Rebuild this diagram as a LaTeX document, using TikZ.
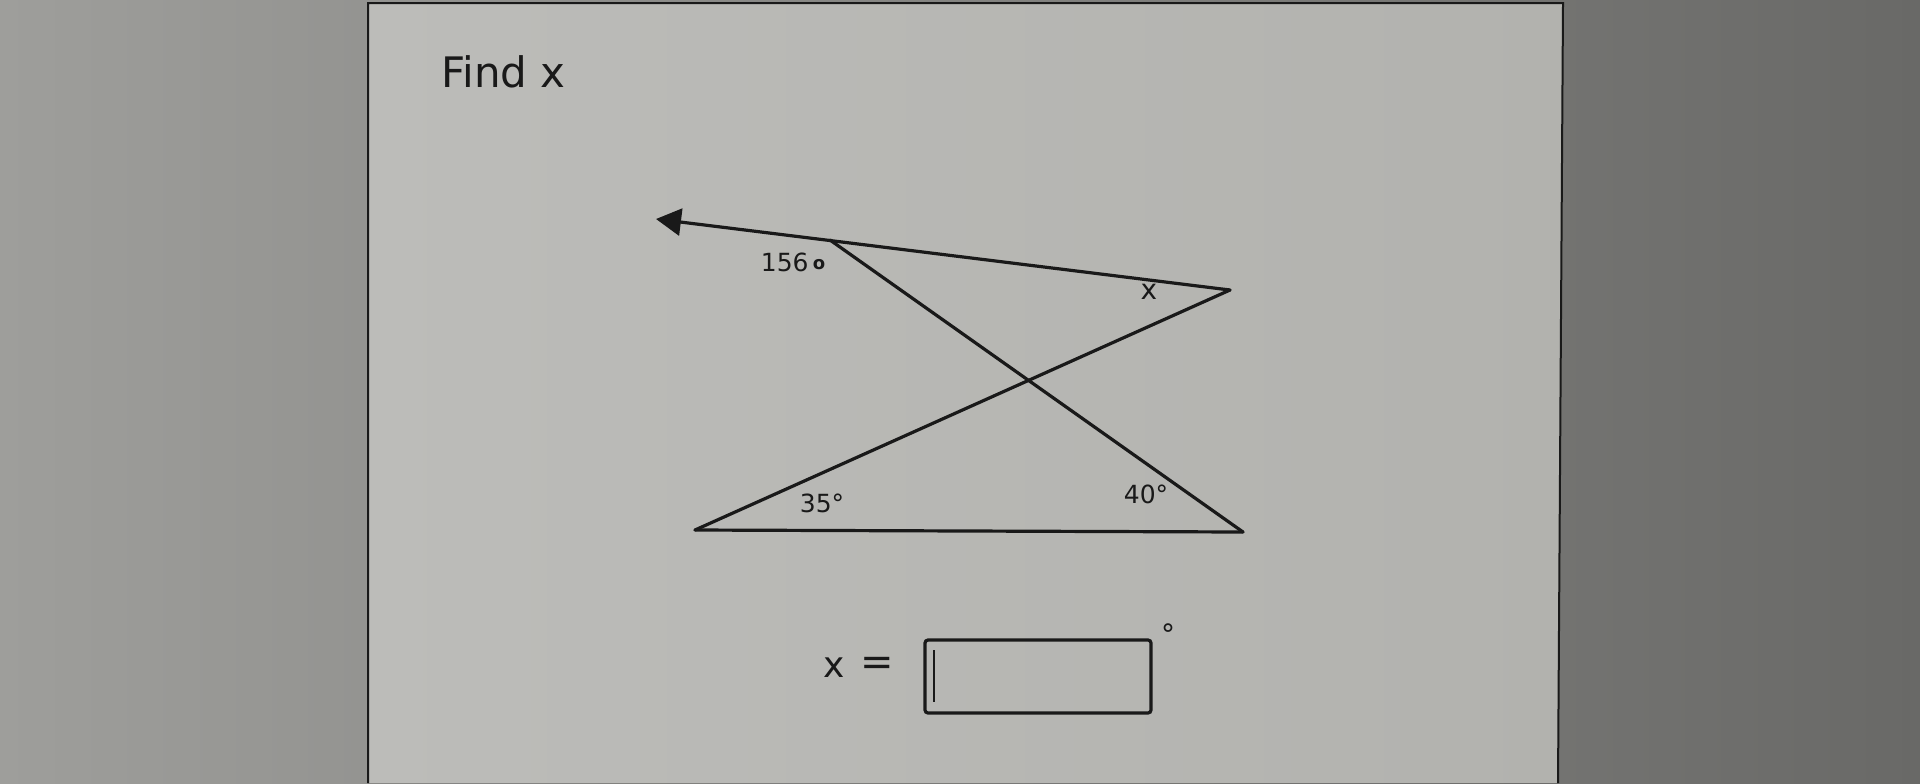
\documentclass[tikz,border=0pt]{standalone}
\usepackage{fontspec}
\setmainfont{DejaVu Sans}
\usetikzlibrary{arrows.meta}
\definecolor{outerL}{RGB}{158,158,155}
\definecolor{outerR}{RGB}{105,105,103}
\definecolor{panelL}{RGB}{188,188,185}
\definecolor{panelM}{RGB}{212,212,208}
\definecolor{panelR}{RGB}{178,178,174}
\definecolor{ink}{RGB}{25,25,25}
\tikzset{
  geo/.style={draw=ink, line width=1.6pt, line cap=round, line join=round},
  lbl/.style={text=ink, inner sep=0pt, font=\fontsize{12.5}{14}\selectfont},
  frame/.style={draw=ink, line width=1pt}
}
\begin{document}
\begin{tikzpicture}[x=0.5pt, y=-0.5pt]
\useasboundingbox (0,0) rectangle (1920,783);
% background
\fill[left color=outerL, right color=outerR] (0,0) rectangle (1920,783);
\fill[left color=panelL, middle color=panelM, right color=panelR] (368,3) -- (1563,3) -- (1558,783) -- (368,783) -- cycle;
\draw[frame] (368,783) -- (368,3) -- (1563,3) -- (1558,783);
% title
\node[text=ink, anchor=base west, inner sep=0pt, font=\fontsize{21}{24}\selectfont] (title) at (441,87) {Find x};
% vertices
\coordinate (T) at (656,219);
\coordinate (A) at (830,240);
\coordinate (R) at (1230,290);
\coordinate (BL) at (695,530);
\coordinate (BR) at (1243,532);
% lines
\draw[geo, -{Triangle[length=12.5pt, width=13.5pt]}] (R) -- (T);
\draw[geo] (A) -- (BR);
\draw[geo] (BL) -- (R);
\draw[geo] (BL) -- (BR);
% angle labels
\node[lbl] (l156) at (793,262) {156\,\raisebox{0.15ex}{\small\textbf{o}}};
\node[lbl, font=\fontsize{14}{16}\selectfont] (lx) at (1149,292) {x};
\node[lbl] (l35) at (822,503) {35°};
\node[lbl] (l40) at (1146,494) {40°};
% answer
\node[text=ink, inner sep=0pt, font=\fontsize{18}{20}\selectfont] (ansx) at (834,668) {x};
\node[text=ink, inner sep=0pt, font=\fontsize{20}{20}\selectfont] (eq) at (877,666) {=};
\draw[ink, line width=1.6pt, rounded corners=1.5pt] (925,640) rectangle (1151,713);
\node[draw=none, minimum width=0pt, inner sep=0pt] (box) at (1038,676.5) {};
\draw[ink, line width=1pt] (934,650) -- (934,702);
\node[text=ink, inner sep=0pt, font=\fontsize{14}{16}\selectfont] (deg) at (1168,634) {°};
\end{tikzpicture}
\end{document}
